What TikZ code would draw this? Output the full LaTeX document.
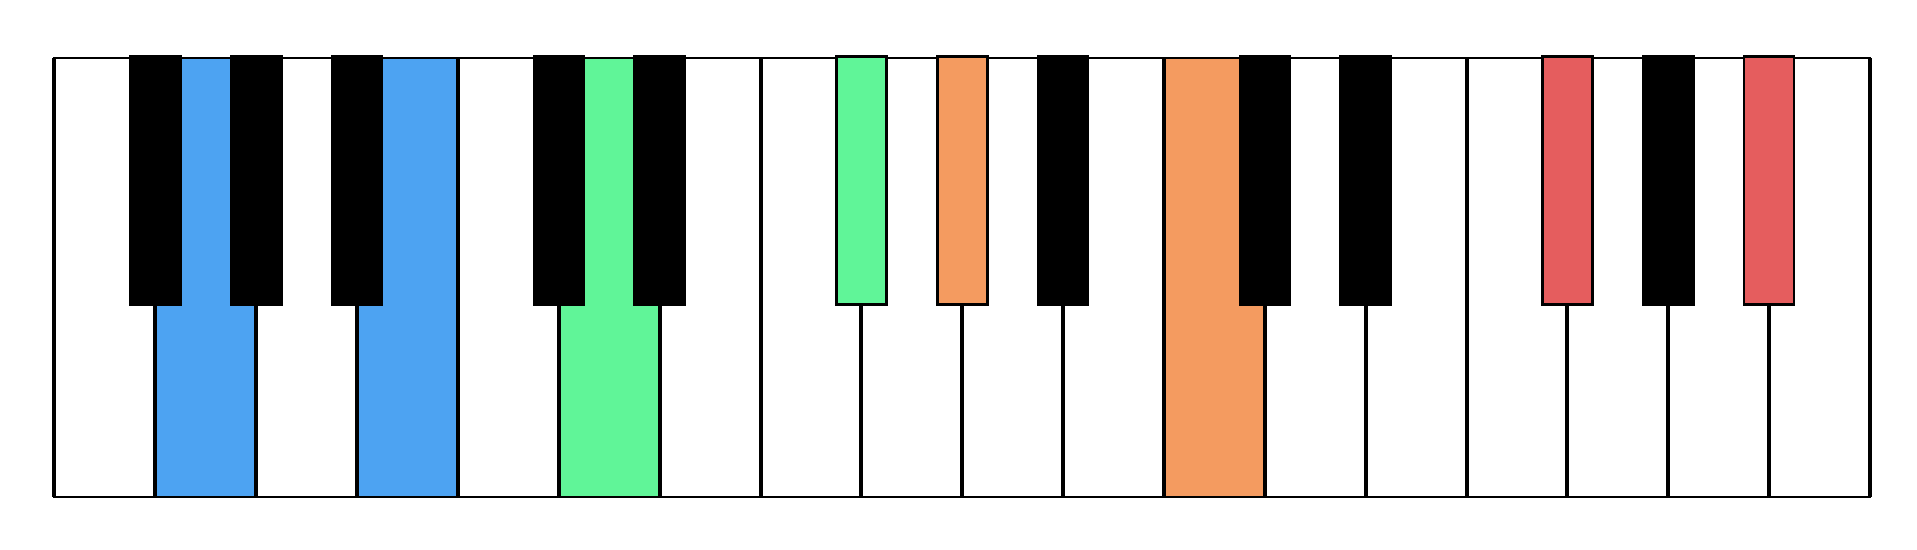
\documentclass[tikz,border=0pt]{standalone}
\usepackage{xcolor}
\definecolor{keyblue}{RGB}{77,163,242}
\definecolor{keygreen}{RGB}{96,245,152}
\definecolor{keyorange}{RGB}{244,155,96}
\definecolor{keyred}{RGB}{229,93,94}
\begin{document}
\begin{tikzpicture}[x=1pt, y=-1pt,
    whitekey/.style={anchor=north west, rectangle, inner sep=0pt, outer sep=0pt,
      minimum width=100.86pt, minimum height=439pt},
    blackkey/.style={anchor=north, rectangle, inner sep=0pt, outer sep=0pt,
      draw=black, line width=2.6pt, minimum width=50pt, minimum height=247.5pt},
    divider/.style={line width=4pt}]
    \useasboundingbox (-54.5, -58) rectangle (1862.5, 491);

    % white keys
    \foreach \i/\c in {1/white, 2/keyblue, 3/white, 4/keyblue, 5/white, 6/keygreen,
      7/white, 8/white, 9/white, 10/white, 11/white, 12/keyorange,
      13/white, 14/white, 15/white, 16/white, 17/white, 18/white}
      \node[whitekey, fill=\c] (w\i) at ({(\i-1)*100.86}, 0) {};

    % frame and key edges
    \draw[line width=2.5pt] (w1.north west) rectangle (w18.south east);
    \draw[divider] (w1.north west) -- (w1.south west);
    \foreach \i in {1,...,18}
      \draw[divider] (w\i.north east) -- (w\i.south east);

    % black keys
    \foreach \i/\c in {1/black, 2/black, 3/black, 5/black, 6/black, 8/keygreen,
      9/keyorange, 10/black, 12/black, 13/black, 15/keyred, 16/black, 17/keyred}
      \node[blackkey, fill=\c] (b\i) at ([yshift=1.3pt]w\i.north east) {};
\end{tikzpicture}
\end{document}
